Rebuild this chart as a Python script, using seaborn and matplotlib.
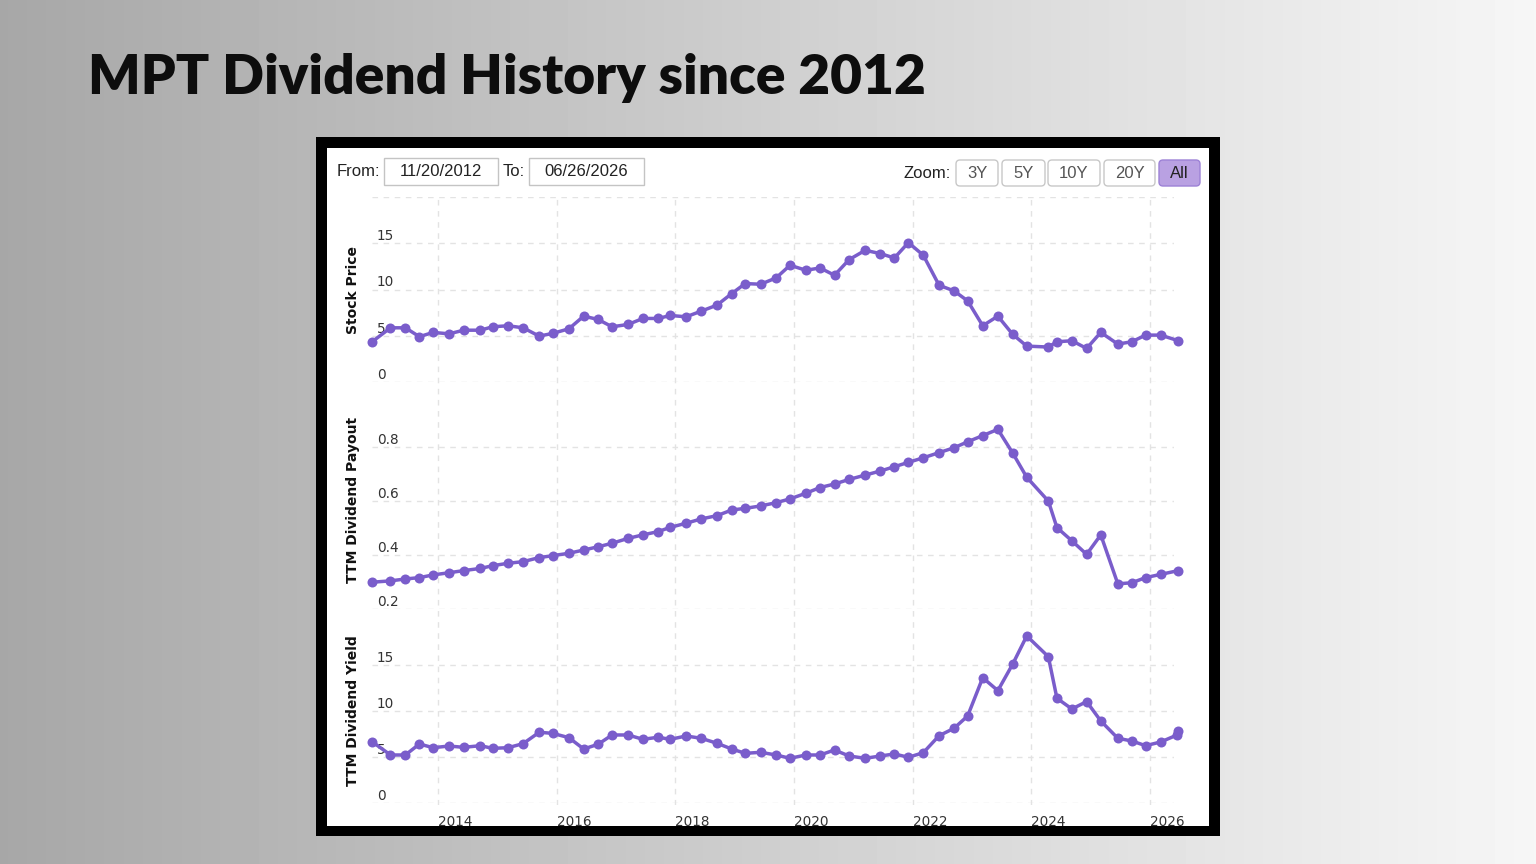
import numpy as np
import pandas as pd
import matplotlib
matplotlib.use("Agg")
import matplotlib.pyplot as plt
import matplotlib.dates as mdates
from matplotlib.patches import Rectangle, FancyBboxPatch
import seaborn as sns

# ---------------- data ----------------
dates = [
    "2012-11-20",
    "2013-03-13", "2013-06-13", "2013-09-07", "2013-12-01",
    "2014-03-08", "2014-06-08", "2014-09-18", "2014-12-02",
    "2015-03-07", "2015-06-08", "2015-09-15", "2015-12-06",
    "2016-03-16", "2016-06-15", "2016-09-12", "2016-12-07",
    "2017-03-15", "2017-06-15", "2017-09-16", "2017-12-01",
    "2018-03-08", "2018-06-09", "2018-09-14", "2018-12-14",
    "2019-03-07", "2019-06-10", "2019-09-13", "2019-12-08",
    "2020-03-15", "2020-06-10", "2020-09-07", "2020-12-06",
    "2021-03-15", "2021-06-16", "2021-09-11", "2021-12-06",
    "2022-03-08", "2022-06-13", "2022-09-13", "2022-12-06",
    "2023-03-09", "2023-06-10", "2023-09-10", "2023-12-05",
    "2024-04-16", "2024-06-08", "2024-09-08", "2024-12-08",
    "2025-03-05", "2025-06-18", "2025-09-12", "2025-12-06",
    "2026-03-09", "2026-06-26",
]
stock_price = [
    4.35, 5.86, 5.86, 4.90, 5.36, 5.21, 5.60, 5.60, 5.97, 6.08,
    5.86, 4.96, 5.25, 5.75, 7.12, 6.76, 5.97, 6.22, 6.87, 6.87,
    7.19, 7.05, 7.66, 8.31, 9.56, 10.64, 10.57, 11.25, 12.62, 12.08,
    12.33, 11.54, 13.23, 14.24, 13.88, 13.41, 15.07, 13.70, 10.46, 9.85,
    8.77, 6.08, 7.12, 5.14, 3.88, 3.78, 4.35, 4.46, 3.63, 5.36,
    4.10, 4.35, 5.07, 5.07, 4.46,
]
ttm_payout = [
    0.299, 0.304, 0.311, 0.316, 0.326, 0.334, 0.342, 0.350, 0.360, 0.369,
    0.375, 0.390, 0.397, 0.406, 0.418, 0.430, 0.443, 0.461, 0.474, 0.486,
    0.502, 0.517, 0.533, 0.545, 0.566, 0.572, 0.581, 0.593, 0.607, 0.628,
    0.649, 0.662, 0.679, 0.695, 0.710, 0.726, 0.742, 0.759, 0.778, 0.796,
    0.818, 0.841, 0.864, 0.776, 0.687, 0.599, 0.501, 0.452, 0.402, 0.474,
    0.293, 0.297, 0.316, 0.328, 0.342,
]
yield_dates = dates[:-1] + ["2026-06-18", "2026-06-26"]
ttm_yield = [
    6.68, 5.24, 5.24, 6.43, 6.03, 6.21, 6.07, 6.25, 5.96, 6.03,
    6.47, 7.70, 7.59, 7.12, 5.89, 6.40, 7.41, 7.41, 6.94, 7.16,
    6.94, 7.30, 7.05, 6.51, 5.89, 5.42, 5.53, 5.24, 4.88, 5.24,
    5.24, 5.78, 5.13, 4.88, 5.13, 5.35, 4.99, 5.49, 7.33, 8.13,
    9.47, 13.62, 12.22, 15.11, 18.15, 15.90, 11.39, 10.23, 11.03, 8.93,
    7.05, 6.76, 6.25, 6.65, 7.41, 7.87,
]

title = "MPT Dividend History since 2012"
panel_labels = ["Stock Price", "TTM Dividend Payout", "TTM Dividend Yield"]
year_labels = ["2014", "2016", "2018", "2020", "2022", "2024", "2026"]
price_ticks = [0, 5, 10, 15, 20]
price_tick_labels = ["0", "5", "10", "15", ""]
payout_ticks = [0.2, 0.4, 0.6, 0.8]
payout_tick_labels = ["0.2", "0.4", "0.6", "0.8"]
yield_ticks = [0, 5, 10, 15]
yield_tick_labels = ["0", "5", "10", "15"]
from_label, from_date = "From:", "11/20/2012"
to_label, to_date = "To:", "06/26/2026"
zoom_label = "Zoom:"
zoom_buttons = ["3Y", "5Y", "10Y", "20Y", "All"]

# ---------------- style ----------------
sns.set_theme(style="white")
plt.rcParams["font.family"] = ["DejaVu Sans"]

W, H = 1536, 864
fig = plt.figure(figsize=(W / 100, H / 100), dpi=100)

LINE = "#7a5dcb"

# background axes in pixel coordinates
bg = fig.add_axes([0, 0, 1, 1], zorder=-10)
grad = np.linspace(0.655, 0.965, 512)[None, :]
grad = np.repeat(grad, 2, axis=0)
bg.imshow(grad, extent=[0, W, H, 0], aspect="auto", cmap="gray", vmin=0, vmax=1,
          interpolation="bilinear")
bg.set_xlim(0, W)
bg.set_ylim(H, 0)
bg.axis("off")

# framed chart box
bg.add_patch(Rectangle((316, 137), 1220 - 316, 836 - 137, facecolor="black", edgecolor="none"))
bg.add_patch(Rectangle((327, 148), 1209 - 327, 826 - 148, facecolor="white", edgecolor="none"))

# title
t = bg.text(88, 78, title, family="Lato", fontweight="heavy", fontsize=40,
            color="#0d0d0d", ha="left", va="center")
fig.canvas.draw()
w = t.get_window_extent().width
t.set_fontsize(40 * 836 / w)

# header controls
hdr_font = dict(family="Liberation Sans", fontsize=12, va="center")
bg.text(337, 172, from_label, color="#222", ha="left", **hdr_font)
bg.add_patch(Rectangle((384, 158), 114, 27, facecolor="white", edgecolor="#c4c4c4", lw=1))
bg.text(441, 172, from_date, color="#222", ha="center", **hdr_font)
bg.text(503, 172, to_label, color="#222", ha="left", **hdr_font)
bg.add_patch(Rectangle((529, 158), 115, 27, facecolor="white", edgecolor="#c4c4c4", lw=1))
bg.text(586, 172, to_date, color="#222", ha="center", **hdr_font)
bg.text(903, 174, zoom_label, color="#222", ha="left", **hdr_font)
btn_x = [(956, 998), (1002, 1045), (1048, 1100), (1104, 1155), (1159, 1200)]
for (x0, x1), lab in zip(btn_x, zoom_buttons):
    active = lab == "All"
    bg.add_patch(FancyBboxPatch((x0, 160), x1 - x0, 26,
                                boxstyle="round,pad=0,rounding_size=4",
                                facecolor="#b9a1e2" if active else "white",
                                edgecolor="#9d82d6" if active else "#c8c8c8", lw=1))
    bg.text((x0 + x1) / 2, 174, lab, color="#222" if active else "#555",
            ha="center", **hdr_font)

# ---------------- chart axes ----------------
left = 371.8 / W
width = (1174 - 371.8) / W
xmin = mdates.date2num(pd.Timestamp("2012-11-18"))
xmax = mdates.date2num(pd.Timestamp("2026-05-30"))
year_pos = [mdates.date2num(pd.Timestamp(f"{y}-01-01")) for y in year_labels]

# vertical grid spanning all panels
gax = fig.add_axes([left, 1 - 805 / H, width, (805 - 197) / H])
gax.set_facecolor("none")
gax.set_xlim(xmin, xmax)
gax.set_ylim(0, 1)
for xp in year_pos:
    gax.axvline(xp, color="#e3e3e3", lw=1, linestyle=(0, (4, 4)))
gax.axis("off")


def fpos(top_px, bottom_px):
    return [left, 1 - bottom_px / H, width, (bottom_px - top_px) / H]


ax1 = fig.add_axes(fpos(197, 382))
ax2 = fig.add_axes(fpos(406.1, 609))
ax3 = fig.add_axes(fpos(628.1, 803.3))

panels = [
    (ax1, dates, stock_price, (0, 20), price_ticks, price_tick_labels, panel_labels[0], 0.5),
    (ax2, dates, ttm_payout, (0.2, 0.95), payout_ticks, payout_tick_labels, panel_labels[1], 0.537),
    (ax3, yield_dates, ttm_yield, (0, 19), yield_ticks, yield_tick_labels, panel_labels[2], 0.527),
]

for ax, dts, vals, ylim, yt, ytl, ylab, ly in panels:
    df = pd.DataFrame({"date": pd.to_datetime(dts), "value": vals})
    sns.lineplot(data=df, x="date", y="value", ax=ax, color=LINE, marker="o",
                 markersize=7.2, linewidth=2.5, markeredgewidth=0, sort=True)
    for ln in ax.lines:
        ln.set_clip_on(False)
        ln.set_zorder(5)
    ax.set_facecolor("none")
    ax.set_xlim(xmin, xmax)
    ax.set_ylim(*ylim)
    ax.set_yticks(yt)
    ax.set_yticklabels(ytl)
    ax.set_axisbelow(True)
    ax.grid(axis="y", color="#e3e3e3", linestyle=(0, (4, 4)), linewidth=1)
    ax.grid(axis="x", visible=False)
    for s in ax.spines.values():
        s.set_visible(False)
    ax.tick_params(axis="y", length=0, pad=-3.5, labelsize=9.8, labelcolor="#333333")
    plt.setp(ax.get_yticklabels(), ha="left", va="bottom")
    ax.set_ylabel(ylab, fontsize=10, fontweight="bold", color="#111111")
    ax.yaxis.set_label_coords(-0.0234, ly)
    ax.yaxis.label.set_va("center")
    ax.set_xlabel("")
    ax.set_xticks(year_pos)
    if ax is ax3:
        ax.set_xticklabels(year_labels)
        ax.tick_params(axis="x", length=0, pad=8.5, labelsize=9.8, labelcolor="#333333")
        plt.setp(ax.get_xticklabels(), ha="left")
    else:
        ax.tick_params(axis="x", length=0, labelbottom=False)

fig.savefig("out.png", dpi=100)
